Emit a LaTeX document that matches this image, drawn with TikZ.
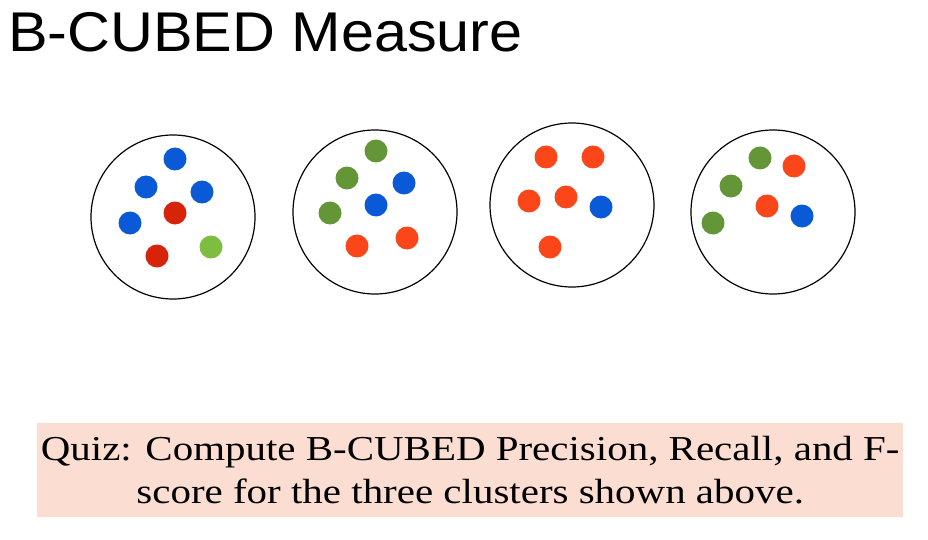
\documentclass[tikz,border=0pt]{standalone}
\usepackage{fontspec}
\setmainfont{Liberation Serif}[FakeStretch=1.17]
\newfontfamily\titlefont{Liberation Sans}[FakeStretch=1.06]
\definecolor{cblue}{RGB}{10,90,215}
\definecolor{cred}{RGB}{215,35,10}
\definecolor{corange}{RGB}{250,70,25}
\definecolor{cgreen}{RGB}{100,150,55}
\definecolor{clgreen}{RGB}{125,190,65}
\definecolor{cpink}{RGB}{252,221,210}
\begin{document}
\begin{tikzpicture}[x=1pt,y=-1pt,
  clu/.style={draw=black,line width=1.2pt,circle,minimum size=164pt,inner sep=0pt},
  dot/.style={circle,fill=#1,minimum size=23pt,inner sep=0pt}]
\useasboundingbox (0,0) rectangle (928,540);
\node[anchor=base west,font=\titlefont\fontsize{56}{60}\selectfont,inner sep=0pt] (title) at (8,52) {B-CUBED Measure};
\node[clu] (c1) at (173,217) {};
\node[clu] (c2) at (375,212) {};
\node[clu] (c3) at (572,205) {};
\node[clu] (c4) at (773,212) {};
\foreach \x/\y/\c [count=\i] in {175/159/cblue,146/187/cblue,202/192/cblue,130/223/cblue,175/213/cred,157/256/cred,211/247/clgreen,
 376/151/cgreen,347/178/cgreen,404/183/cblue,330/213/cgreen,376/205/cblue,357/246/corange,407/238/corange,
 546/157/corange,593/157/corange,529/201/corange,566/197/corange,601/207/cblue,550/247/corange,
 760/158/cgreen,794/166/corange,731/186/cgreen,767/206/corange,802/216/cblue,713/223/cgreen}
  \node[dot=\c] (d\i) at (\x,\y) {};
\node[fill=cpink,minimum width=866pt,minimum height=94pt,anchor=north west,inner sep=0pt] (box) at (37,423) {};
\node[align=center,font=\fontsize{35}{43}\selectfont,inner sep=0pt] (quiz) at (box.center) {Quiz: Compute B-CUBED Precision, Recall, and F-\\score for the three clusters shown above.};
\end{tikzpicture}
\end{document}
